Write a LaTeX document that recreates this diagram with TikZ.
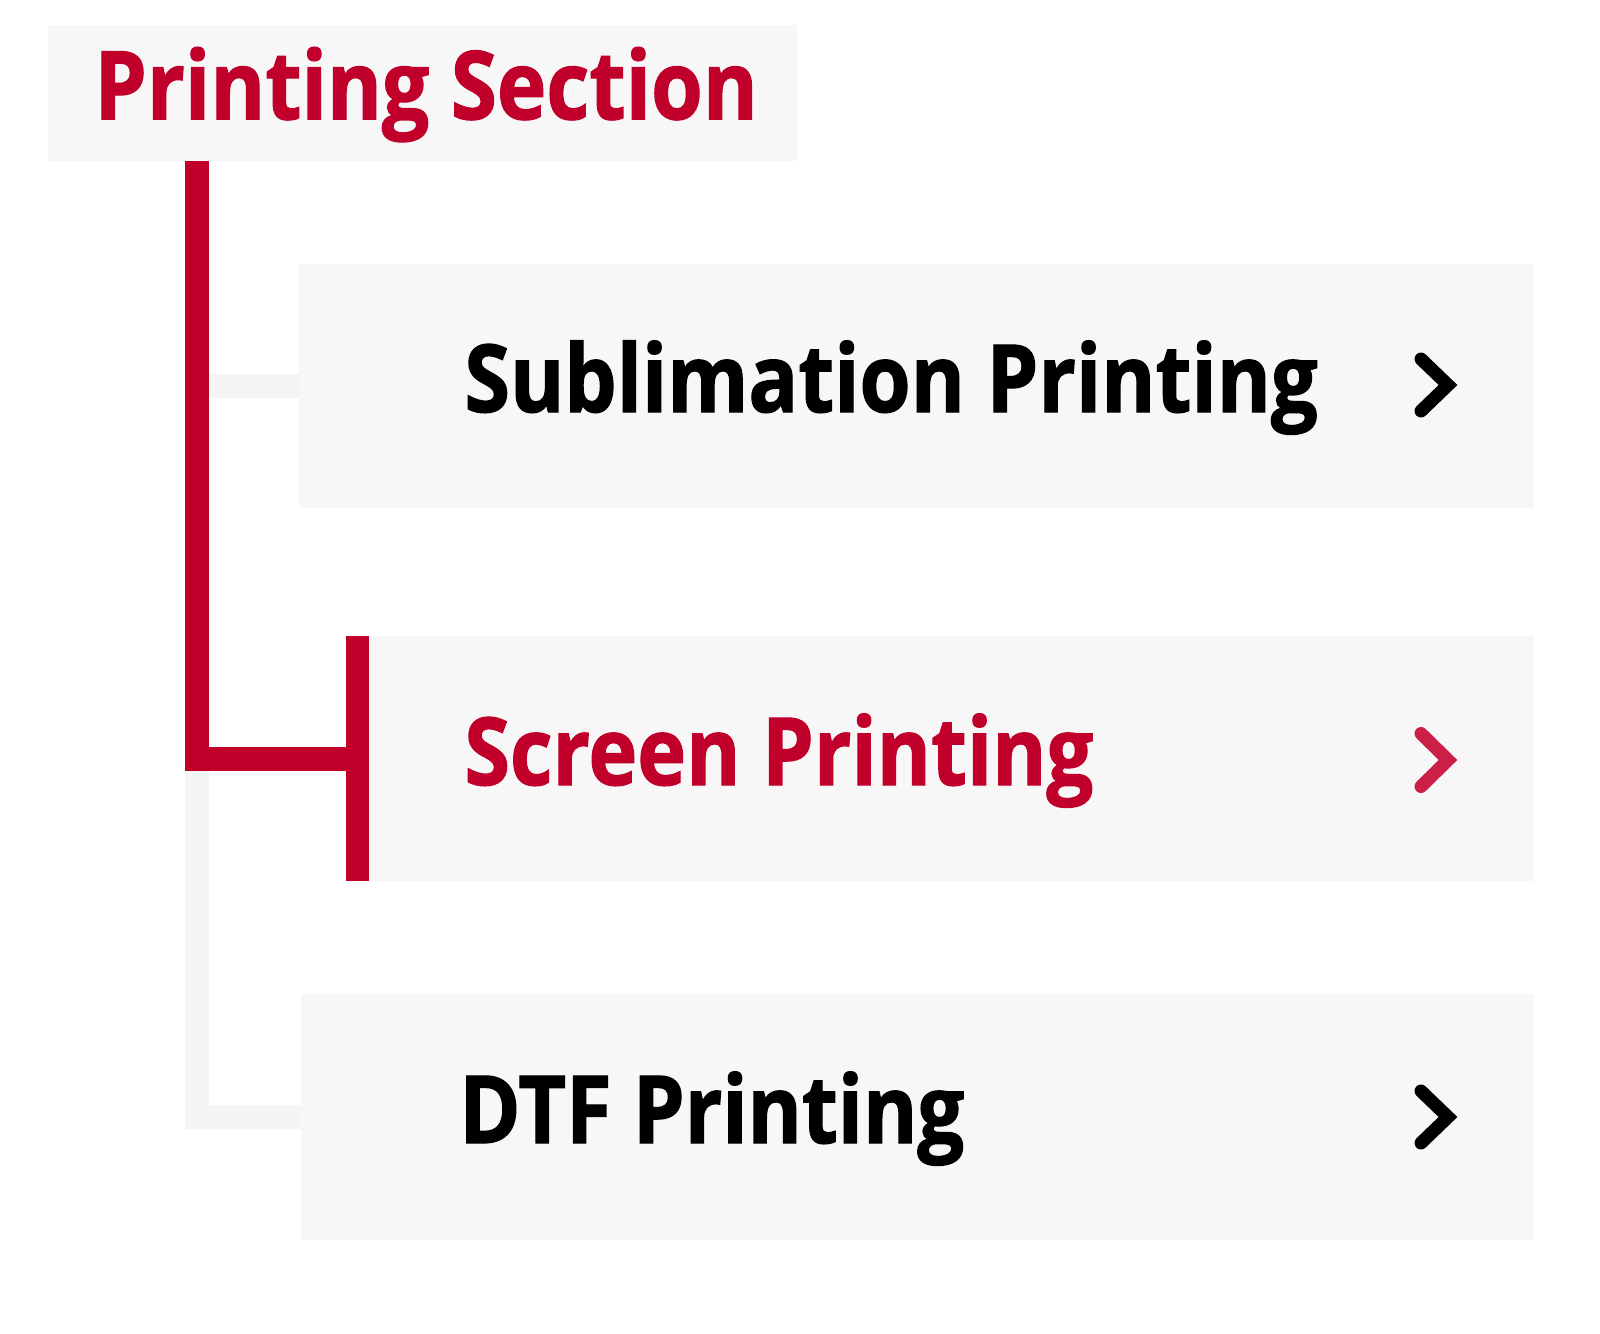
\documentclass[tikz,border=0pt]{standalone}
\usepackage{fontspec}
\newfontfamily\hfont{Open Sans}[FakeStretch=0.88, BoldFeatures={FakeBold=1.3}]
\usetikzlibrary{calc}
\definecolor{crim}{RGB}{192,0,42}
\definecolor{chevred}{RGB}{204,31,69}
\definecolor{panel}{RGB}{247,247,247}
\definecolor{ghost}{RGB}{245,245,245}
\begin{document}
\begin{tikzpicture}[x=0.5pt,y=-0.5pt,
  panelbox/.style={fill=panel, draw=none, inner sep=0pt, outer sep=0pt, anchor=north west},
  lbl/.style={anchor=base west, inner sep=0pt, font=\hfont\bfseries\fontsize{47}{47}\selectfont},
  redline/.style={draw=crim, line width=12pt, line join=miter, line cap=butt},
  ghostline/.style={draw=ghost, line width=12pt, line join=miter, line cap=butt},
  chev/.style={line width=6.5pt, line cap=round, line join=miter}]
\fill[white] (0,0) rectangle (1600,1333);
\useasboundingbox (0,0) rectangle (1600,1333);
% panels
\node[panelbox, minimum width=374.5pt, minimum height=68.25pt] (title) at (48,24.5) {};
\node[panelbox, minimum width=617.5pt, minimum height=122pt] (b1) at (299,264) {};
\node[panelbox, minimum width=594pt, minimum height=122.5pt] (b2) at (346,636) {};
\node[panelbox, minimum width=616.5pt, minimum height=123pt] (b3) at (301,994) {};
\coordinate (trunktop) at ($(title.south west)+(149,0)$);
% faint connectors
\draw[ghostline] (trunktop |- b1.west) -- (b1.west);
\draw[ghostline] (b2.west -| trunktop) |- (b3.west);
% red connectors
\draw[redline] (trunktop) |- (b2.west);
\draw[draw=crim, line width=11.5pt] ($(b2.north west)+(11.5,0)$) -- ($(b2.south west)+(11.5,0)$);
% labels
\node[lbl, text=crim, font=\hfont\bfseries\fontsize{47.5}{47.5}\selectfont] (tl) at ($(title.west)+(46,26.5)$) {Printing Section};
\node[lbl, text=black] (l1) at ($(b1.west)+(165,26)$) {Sublimation Printing};
\node[lbl, text=crim] (l2) at ($(b2.west)+(118,26.5)$) {Screen Printing};
\node[lbl, text=black] (l3) at ($(b3.west)+(158,26)$) {DTF Printing};
% chevrons
\draw[chev, draw=black] ($(b1.east)+(-113,-27)$) -- ($(b1.east)+(-86,-1)$) -- ($(b1.east)+(-113,25)$);
\draw[chev, draw=chevred] ($(b2.east)+(-113,-25)$) -- ($(b2.east)+(-86,1.5)$) -- ($(b2.east)+(-113,28)$);
\draw[chev, draw=black] ($(b3.east)+(-113,-26)$) -- ($(b3.east)+(-86,0)$) -- ($(b3.east)+(-113,26)$);
\end{tikzpicture}
\end{document}
